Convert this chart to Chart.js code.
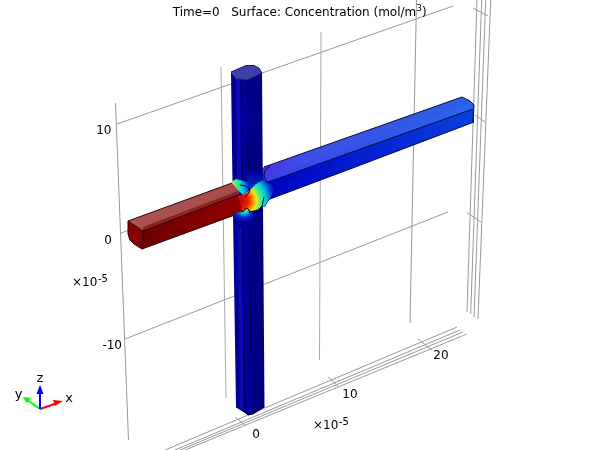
<!DOCTYPE html>
<html><head><meta charset="utf-8">
<style>html,body{margin:0;padding:0;background:#fff}canvas{display:block}</style>
<script src="https://cdn.jsdelivr.net/npm/chart.js@4"></script>
</head><body><canvas id="c" width="600" height="450"></canvas>
<script>
// Picture values, in the 600 x 450 plane of the view
const zAxisFrame=[[115.5,103],[128.5,440]];
const zGrid10=[[117,124],[453,6]];
const zGrid0=[[121,233],[450,110]];
const zGridM10=[[125,339],[448,212]];
const yGrid0=[[221,67],[226,398]];
const yGrid10=[[321,32],[319.5,360]];
const yGrid20=[[416.5,0],[410,323]];
const frameR1=[[477,0],[467,312]];
const frameR2=[[481.7,0],[470.7,314]];
const frameR3=[[485.7,0],[474,317]];
const frameR4=[[490.7,0],[478,319]];
const tickR1=[[473,8],[488,16]];
const tickR2=[[475,115],[485,122]];
const tickR3=[[467,212.7],[481,222]];
const xAxis1=[[165,450],[457,327]];
const xAxis2=[[175,450],[460,330]];
const xAxis3=[[180,450],[463,332]];
const xAxis4=[[185,450],[467,334]];
const xTick0=[[235,417],[245,425]];
const xTick10=[[328,377],[338,386]];
const xTick20=[[418,339],[432,350]];

const vertBody=[[231,72],[232,150],[236,407],[248,415],[253,414],[264.5,407],[262,73],[247,80],[237,79]];
const vertBevel=[[241,80],[247,80],[252,414],[245,412]];
const vertShine=[[236,79],[240,80],[243.5,411],[240,409]];
const vertTop=[[231,72],[246,65.5],[254,65.5],[259,68],[262,73],[254,77],[247,80],[237,79]];
const vertEdgeA=[[241,80],[245,412]];
const vertEdgeB=[[247,80],[252,414]];
const vertBase=[[236,407],[245,412],[248,415],[253,414],[264.5,407]];

const blueTop=[[260,168.5],[462,97],[470,101],[474,105],[473,109],[260,185]];
const blueBand=[[268,176],[468,105],[473,109],[266,183]];
const blueSide=[[260,185],[473,109],[474,122],[350,169],[270,199],[267,202],[264.5,207],[260,207]];
const blueEdgeTop=[[264,167],[462,97],[470,101],[474,105],[473,122]];
const blueEdgeMid=[[268,182],[473,109]];
const blueEdgeBot=[[474,122],[350,169],[270,199],[267,202],[264.5,207]];
const blueCap=[[270,166],[265,170],[264,176],[266,181],[270,183]];

const redTop=[[128,221],[232,183],[240,190],[238,195],[143,231]];
const redBand=[[143,227],[238,191],[238,195],[143,231]];
const redSide=[[143,231],[238,195],[243,212],[142,249]];
const redCap=[[128,221],[143,231],[142,249],[134,244],[130,240],[128,234]];
const redEdges=[[128,234],[128,221],[232,183]];
const redEdgeMid=[[128,221],[143,231],[238,195]];
const redEdgeBot=[[128,234],[130,240],[134,244],[142,249],[243,212]];
const redEdgeEnd=[[143,231],[142,249]];

const halo=[[247,172],[263,172],[264,182],[268,190],[250,190],[247,184]];
const junction=[[238,196],[243,195],[250,190],[256,184],[263,180],[270,183],[274,188],[270,199],[267,202],[264.5,207],[262,206],[258,210],[250,212],[247,208],[243,212]];
const lowerPatch=[[233,213],[243,212],[247,208],[250,212],[253,211],[254,228],[235,228]];
const saddleLeft=[[231,182],[236,179],[247,182],[250,190],[243,195],[238,190]];
const arcUpper=[[240,185],[246,186],[250,190],[248,194],[245,197]];
const arcLower=[[243,212],[245,209],[247,208],[249,210],[250,213]];
const arcRight=[[250,212],[258,210],[262,206],[264,197]];

const triadX=[[40,409],[56,403.5]];
const triadY=[[40,409],[28,400.5]];
const triadZ=[[40,409],[40,391]];
const triadXHead=[[63,401],[53,400],[55,406]];
const triadYHead=[[23,397],[31,398],[26.5,403]];
const triadZHead=[[40,385],[36.5,394],[43.5,394]];

const titleStart='Time=0   Surface: Concentration (mol/m';
const titleSup='3';
const titleEnd=')';
const tickTexts=['10','0','-10','0','10','20'];
const multiplierBase='\u00d710';
const multiplierExp='-5';
const triadNames=['x','y','z'];

const GRID='#999999';
function line(data,color,w){return {data:data.map(p=>({x:p[0],y:p[1]})),borderColor:color,borderWidth:w===undefined?1:w,fill:false,showLine:true,pointRadius:0,tension:0,clip:false};}
function poly(data,bg,edge){return {data:data.map(p=>({x:p[0],y:p[1]})),backgroundColor:bg,borderColor:edge||'rgba(0,0,0,0)',borderWidth:edge?1:0,fill:'shape',showLine:true,pointRadius:0,tension:0,clip:false};}
function px(s,v){const r=s?s.getPixelForValue(v):NaN;return Number.isFinite(r)?r:v;}
function sx(c,v){return px(c.chart.scales.x,v);}
function sy(c,v){return px(c.chart.scales.y,v);}
function linear(x0,y0,x1,y1,stops){return c=>{const g=c.chart.ctx.createLinearGradient(sx(c,x0),sy(c,y0),sx(c,x1),sy(c,y1));stops.forEach(s=>g.addColorStop(s[0],s[1]));return g;};}
function radial(x0,y0,r,stops){return c=>{const g=c.chart.ctx.createRadialGradient(sx(c,x0),sy(c,y0),0,sx(c,x0),sy(c,y0),r);stops.forEach(s=>g.addColorStop(s[0],s[1]));return g;};}

const datasets=[
 line(zAxisFrame,GRID),line(zGrid10,GRID),line(zGrid0,GRID),line(zGridM10,GRID),
 line(yGrid0,'#aaaaaa'),line(yGrid10,'#aaaaaa'),line(yGrid20,'#999999'),
 line(frameR1,GRID),line(frameR2,GRID),line(frameR3,GRID),line(frameR4,GRID),
 line(tickR1,GRID),line(tickR2,GRID),line(tickR3,GRID),
 line(xAxis1,GRID),line(xAxis2,GRID),line(xAxis3,GRID),line(xAxis4,GRID),
 line(xTick0,GRID),line(xTick10,GRID),line(xTick20,GRID),

 poly(blueTop,linear(264,0,474,0,[[0,'#4a34e0'],[0.2,'#3f4fe6'],[1,'#2a5fe6']])),
 poly(blueBand,linear(264,0,474,0,[[0,'#3a40ec'],[1,'#2868f0']])),
 poly(blueSide,linear(264,0,474,0,[[0,'#0000b8'],[0.25,'#0012cc'],[1,'#0a40dc']])),

 poly(vertBody,linear(231,0,265,0,[[0,'#00008e'],[0.3,'#00009c'],[0.5,'#000090'],[0.55,'#00008c'],[1,'#00007c']])),
 poly(vertShine,'#0b0bb0'),
 poly(vertBevel,'#00009a'),
 poly(vertTop,'#3f3fa8','#15155e'),
 line(vertEdgeA,'#000050'),line(vertEdgeB,'#000040'),line(vertBase,'#000040'),
 line(blueEdgeTop,'#000a40'),line(blueEdgeMid,'#000a30'),line(blueEdgeBot,'#000a40'),

 poly(redTop,linear(128,0,240,0,[[0,'#a85454'],[1,'#a84a4a']])),
 poly(redBand,'#8a2222'),
 poly(redSide,linear(143,0,243,0,[[0,'#6c0000'],[1,'#940000']])),
 poly(redCap,'#880000'),
 line(redEdges,'#300000'),line(redEdgeMid,'#300000'),line(redEdgeBot,'#300000'),line(redEdgeEnd,'#300000'),

 poly(halo,linear(0,172,0,190,[[0,'#000098'],[1,'#0030d8']])),
 poly(lowerPatch,radial(244,208,20,[[0,'#e8e820'],[0.14,'#50f080'],[0.28,'#00c8d8'],[0.46,'#0030d8'],[0.72,'#000098'],[1,'#000094']])),
 poly(junction,radial(241,201,37,[[0,'#c00000'],[0.2,'#f02000'],[0.34,'#ffa000'],[0.42,'#e8e820'],[0.52,'#50f080'],[0.68,'#00c8d8'],[0.86,'#0030d8'],[1,'#0008b8']])),
 poly(saddleLeft,linear(232,185,250,181,[[0,'#e8e020'],[0.25,'#40f080'],[0.48,'#00d8e0'],[0.8,'#0050e0'],[1,'#0000c0']])),
 line(blueCap,'#000a40'),line(arcUpper,'#000030'),line(arcLower,'#000030'),line(arcRight,'#000030'),

 line(triadX,'#ff0000',2),line(triadY,'#00ff00',2),line(triadZ,'#0000ff',2),
 poly(triadXHead,'#ff0000'),poly(triadYHead,'#00ff00'),poly(triadZHead,'#0000ff')
];
datasets.forEach((d,i)=>{d.order=datasets.length-i;});

const FONT='"DejaVu Sans"';
const textPlugin={id:'texts',afterDraw(chart){
 const g=chart.ctx,X=v=>chart.scales.x.getPixelForValue(v),Y=v=>chart.scales.y.getPixelForValue(v);
 g.save();g.fillStyle='#000';g.textBaseline='middle';
 const put=(t,x,y,a,size)=>{g.font=(size||12)+'px '+FONT;g.textAlign=a||'left';g.fillText(t,X(x),Y(y));};
 put(titleStart,172.7,13);
 g.font='12px '+FONT;const w=g.measureText(titleStart).width;
 put(titleSup,172.7+w,9,'left',9);
 g.font='9px '+FONT;const w2=g.measureText(titleSup).width;
 put(titleEnd,172.7+w+w2,13);
 put(tickTexts[0],111.5,130.5,'right');
 put(tickTexts[1],112,240.5,'right');
 put(tickTexts[2],122,345.5,'right');
 put(tickTexts[3],256,435,'center');
 put(tickTexts[4],350,395,'center');
 put(tickTexts[5],441,356,'center');
 put(multiplierBase,72,283);put(multiplierExp,98,279,'left',10);
 put(multiplierBase,313,426);put(multiplierExp,339,422,'left',10);
 put(triadNames[0],69,399,'center',13);
 put(triadNames[1],18.5,395,'center',13);
 put(triadNames[2],40,379,'center',13);
 g.restore();
}};

new Chart(document.getElementById('c'),{
 type:'scatter',
 data:{datasets},
 options:{
  responsive:false,animation:false,devicePixelRatio:1,
  layout:{padding:0},
  scales:{
   x:{type:'linear',min:0,max:600,display:false},
   y:{type:'linear',min:0,max:450,reverse:true,display:false}
  },
  plugins:{legend:{display:false},title:{display:false},tooltip:{enabled:false}},
  events:[]
 },
 plugins:[textPlugin]
});
</script></body></html>
